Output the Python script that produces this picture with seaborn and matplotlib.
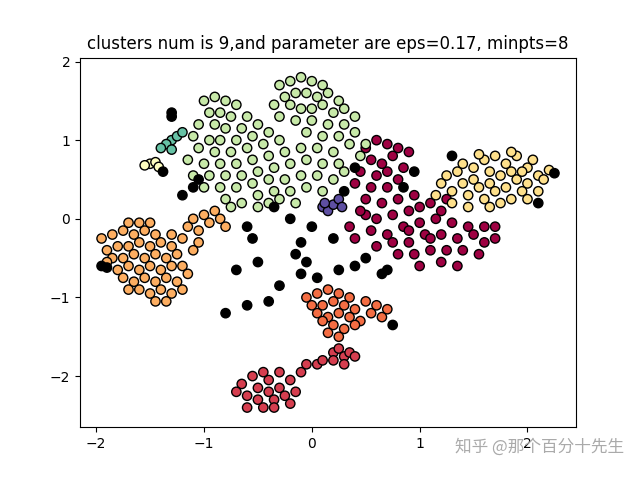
import matplotlib
matplotlib.use("Agg")
import matplotlib.pyplot as plt
import seaborn as sns
import pandas as pd

cluster_a = "0.5,0.9 0.6,1.0 0.7,0.95 0.8,0.9 0.9,0.85 0.55,0.75 0.65,0.7 0.75,0.8 0.45,0.6 0.6,0.55 0.7,0.6 0.85,0.65 0.4,0.45 0.55,0.4 0.7,0.4 0.8,0.5 0.5,0.25 0.65,0.2 0.8,0.25 0.95,0.3 0.5,0.05 0.6,0.0 0.75,0.05 0.9,0.1 1.0,0.15 1.1,0.2 1.2,0.1 0.4,-0.25 0.55,-0.15 0.7,-0.2 0.85,-0.1 1.0,-0.05 1.15,0.0 1.3,-0.05 1.45,-0.1 0.6,-0.35 0.75,-0.3 0.9,-0.3 1.05,-0.2 1.2,-0.2 1.35,-0.25 1.5,-0.2 1.6,-0.3 1.7,-0.25 0.8,-0.45 0.95,-0.45 1.1,-0.4 1.25,-0.4 1.4,-0.4 1.55,-0.45 1.0,-0.6 1.2,-0.55 1.35,-0.6 1.7,-0.1 1.25,0.25 0.9,-0.15 1.1,-0.25 0.35,-0.1 1.6,-0.1 0.45,0.1"
cluster_b = "1.2,0.45 1.25,0.55 1.3,0.35 1.35,0.6 1.4,0.45 1.45,0.3 1.5,0.65 1.5,0.5 1.55,0.4 1.6,0.75 1.6,0.25 1.65,0.6 1.65,0.45 1.7,0.8 1.7,0.35 1.75,0.55 1.8,0.7 1.8,0.4 1.85,0.25 1.85,0.6 1.9,0.8 1.9,0.5 1.95,0.35 2.0,0.65 2.0,0.45 2.05,0.75 2.1,0.55 2.1,0.35 2.15,0.5 2.2,0.62 1.4,0.7 1.55,0.82 1.75,0.2 1.3,0.2 1.45,0.15 2.0,0.25 1.15,0.3 1.85,0.85 1.65,0.15 1.95,0.6"
cluster_c = ("-0.3,1.7 -0.2,1.75 -0.1,1.8 0.0,1.75 0.1,1.7 -0.25,1.55 -0.15,1.6 -0.05,1.6 0.05,1.55 0.15,1.6 0.25,1.5 -0.35,1.45 -0.2,1.45 -0.1,1.4 0.0,1.4 0.1,1.45 0.2,1.35 0.3,1.4 -0.3,1.3 -0.15,1.25 0.0,1.25 0.15,1.2 0.3,1.2 0.4,1.3 -0.05,1.1 0.1,1.05 0.25,1.05 0.4,1.1 0.35,0.95 0.5,0.95 0.45,0.8 "
             "-1.0,1.5 -0.9,1.55 -0.8,1.5 -0.7,1.45 -0.95,1.35 -0.85,1.35 -0.75,1.3 -0.6,1.3 -1.05,1.2 -0.9,1.2 -0.8,1.15 -0.65,1.15 -0.5,1.2 -1.1,1.05 -0.95,1.0 -0.85,1.0 -0.7,1.0 -0.55,1.05 -0.4,1.1 -1.05,0.9 -0.9,0.85 -0.75,0.85 -0.6,0.9 -0.45,0.95 -0.3,1.0 -1.15,0.75 -1.0,0.7 -0.85,0.7 -0.7,0.7 -0.55,0.75 -0.4,0.8 -0.25,0.85 -0.1,0.9 0.05,0.9 0.2,0.85 -1.1,0.55 -0.95,0.55 -0.8,0.55 -0.65,0.55 -0.5,0.6 -0.35,0.65 -0.2,0.7 -0.05,0.75 0.1,0.7 0.25,0.7 -1.0,0.4 -0.85,0.4 -0.7,0.4 -0.55,0.45 -0.4,0.5 -0.25,0.5 -0.1,0.55 0.05,0.55 0.2,0.5 0.3,0.6 -0.8,0.25 -0.65,0.2 -0.5,0.3 -0.35,0.35 -0.2,0.35 -0.05,0.4 0.1,0.35 -0.75,0.15 -0.5,0.15 -0.4,0.2 -0.3,0.25 -0.15,0.2")
cluster_d = "-1.95,-0.25 -1.85,-0.2 -1.75,-0.15 -1.65,-0.2 -1.55,-0.15 -1.45,-0.2 -1.9,-0.4 -1.8,-0.35 -1.7,-0.35 -1.6,-0.3 -1.5,-0.35 -1.4,-0.3 -1.3,-0.35 -1.85,-0.5 -1.75,-0.5 -1.65,-0.45 -1.55,-0.5 -1.45,-0.45 -1.35,-0.5 -1.25,-0.45 -1.8,-0.65 -1.7,-0.6 -1.6,-0.65 -1.5,-0.6 -1.4,-0.65 -1.3,-0.6 -1.2,-0.6 -1.75,-0.75 -1.65,-0.8 -1.55,-0.75 -1.45,-0.8 -1.35,-0.75 -1.25,-0.8 -1.6,-0.9 -1.5,-0.95 -1.4,-0.9 -1.3,-0.95 -1.2,-0.9 -1.45,-1.05 -1.35,-1.05 -1.6,-0.05 -1.5,-0.05 -1.7,-0.05 -1.3,-0.2 -1.2,-0.25 -1.15,-0.1 -1.1,0.0 -1.05,-0.15 -1.0,0.05 -0.95,-0.05 -0.9,0.1 -0.85,0.0 -0.8,-0.1 -1.1,-0.4 -1.15,-0.7 -1.05,-0.3 -1.7,-0.9 -1.9,-0.55"
cluster_e = "-0.05,-1.0 0.05,-0.95 0.15,-0.9 0.25,-0.95 0.35,-1.0 0.0,-1.1 0.1,-1.1 0.2,-1.05 0.3,-1.1 0.4,-1.15 0.05,-1.2 0.15,-1.25 0.25,-1.2 0.35,-1.25 0.45,-1.3 0.55,-1.2 0.65,-1.25 0.7,-1.15 0.6,-1.1 0.2,-1.35 0.3,-1.4 0.4,-1.35 0.15,-1.45 0.25,-1.5 0.5,-1.05 0.1,-1.3"
cluster_f = "-0.65,-2.1 -0.6,-2.25 -0.55,-2.0 -0.5,-2.15 -0.5,-2.3 -0.45,-2.4 -0.4,-2.05 -0.4,-2.2 -0.35,-2.3 -0.3,-1.95 -0.3,-2.15 -0.25,-2.25 -0.2,-2.05 -0.2,-2.35 -0.15,-2.2 -0.6,-2.4 -0.7,-2.2 -0.1,-1.95 -0.05,-1.85 0.05,-1.85 0.1,-1.8 -0.35,-2.4 0.2,-1.7 0.25,-1.65 0.3,-1.75 0.35,-1.7 0.2,-1.8 0.3,-1.85 0.4,-1.75 -0.45,-1.95"
cluster_g = "-1.3,1.0 -1.25,1.05 -1.2,1.1 -1.35,0.95 -1.4,0.9 -1.3,0.88"
cluster_h = "0.1,0.15 0.15,0.1 0.2,0.18 0.25,0.25 0.12,0.2 0.28,0.15"
cluster_i = "-1.5,0.7 -1.45,0.72 -1.55,0.68 -1.42,0.66"
noise = "-1.95,-0.6 -1.9,-0.62 -1.38,0.6 -1.3,1.3 -1.3,1.35 -1.2,0.3 -1.1,0.4 -1.05,0.5 -0.6,-0.1 -0.55,-0.25 -0.5,-0.55 -0.6,-1.1 -0.4,-1.05 -0.2,0.0 0.0,-0.1 -0.1,-0.3 -0.05,-0.55 -0.1,-0.7 0.05,-0.75 0.25,-0.65 0.4,-0.6 0.5,-0.5 0.65,-0.7 0.75,-1.35 0.7,-0.65 -0.3,-0.85 0.3,0.35 0.4,0.65 0.85,0.4 0.95,0.6 1.3,0.8 2.25,0.58 2.1,0.2 -0.7,-0.65 -0.15,-0.45 0.2,-0.25 -0.35,0.15 -0.8,-1.2"

clusters = [("0", cluster_a), ("1", cluster_f), ("2", cluster_e), ("3", cluster_d),
            ("4", cluster_b), ("5", cluster_i), ("6", cluster_c), ("7", cluster_g),
            ("8", cluster_h), ("noise", noise)]
palette = {"0": "#9e0142", "1": "#d53e4f", "2": "#f46d43", "3": "#fdae61", "4": "#fee08b",
           "5": "#ffffbf", "6": "#c7e9a8", "7": "#66c2a5", "8": "#5e4fa2", "noise": "#000000"}

rows = []
for lab, s in clusters:
    for p in s.split():
        x, y = p.split(",")
        rows.append((float(x), float(y), lab))
df = pd.DataFrame(rows, columns=["x", "y", "label"])

fig, ax = plt.subplots(figsize=(6.4, 4.8), dpi=100)
sns.scatterplot(data=df, x="x", y="y", hue="label", palette=palette, s=45,
                edgecolor="black", linewidth=1, legend=False, ax=ax)
ax.set_xlabel("")
ax.set_ylabel("")
ax.set_xlim(-2.15, 2.45)
ax.set_ylim(-2.65, 2.05)
ax.set_title("clusters num is 9,and parameter are eps=0.17, minpts=8")
fig.text(0.975, 0.05, "知乎 @那个百分十先生", ha="right", va="bottom", fontsize=12,
         color="#aaaaaa", family=["Noto Sans CJK SC", "DejaVu Sans"])
fig.savefig("out.png", dpi=100)
